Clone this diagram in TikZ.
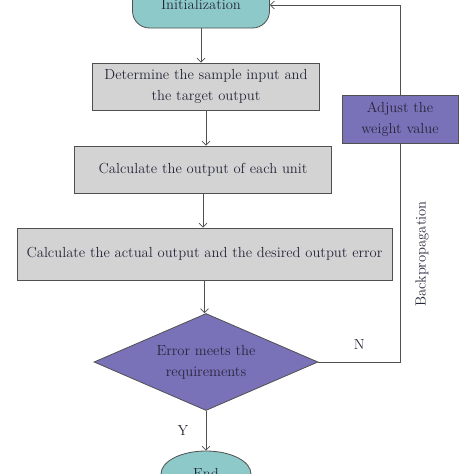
\documentclass[tikz,border=0pt]{standalone}
\usetikzlibrary{arrows.meta, shapes.geometric}
\definecolor{initteal}{RGB}{141,201,201}
\definecolor{boxgray}{RGB}{211,211,211}
\definecolor{decpurple}{RGB}{122,114,185}
\definecolor{linegray}{RGB}{80,80,80}
\definecolor{textdark}{RGB}{38,38,58}

\begin{document}
\begin{tikzpicture}[
    x=1pt, y=-1pt,
    >={Straight Barb[length=4pt, width=8pt]},
    font=\fontsize{14.6}{21}\selectfont,
    terminal/.style={draw=linegray, fill=initteal, line width=0.8pt,
        rounded corners=17pt, text=textdark, inner sep=0pt},
    process/.style={draw=linegray, fill=boxgray, line width=0.8pt,
        text=textdark, align=center, inner sep=0pt},
    decision/.style={diamond, draw=linegray, fill=decpurple, line width=0.8pt,
        text=textdark, align=center, inner sep=0pt, aspect=2.3},
    flow/.style={->, linegray, line width=0.7pt},
    tag/.style={text=textdark},
]

%--- Canvas (reference is square) ---
\useasboundingbox (0,0) rectangle (474,474);

%============================================================
% Main column
%============================================================
\node[terminal, minimum width=137pt, minimum height=46pt] (init) at (201,5)
    {Initialization};
\node[process, minimum width=227pt, minimum height=47pt] (det) at (206,86.5)
    {Determine the sample input and\\the target output};
\node[process, minimum width=257pt, minimum height=47pt] (unit) at (203,169.5)
    {Calculate the output of each unit};
\node[process, minimum width=375pt, minimum height=52pt] (err) at (204.5,254)
    {Calculate the actual output and the desired output error};
\node[decision, minimum width=224pt, minimum height=97pt] (check) at (206,362)
    {Error meets the\\requirements};
\node[ellipse, draw=linegray, fill=initteal, line width=0.8pt, text=textdark,
    inner sep=0pt, minimum width=90pt, minimum height=46pt] (stop) at (206,474)
    {End};

%============================================================
% Feedback branch
%============================================================
\node[process, fill=decpurple, minimum width=116pt, minimum height=48pt] (adjust) at (400,119)
    {Adjust the\\weight value};
\node[tag, rotate=90] (bp) at (422,254) {Backpropagation};

%============================================================
% Connectors
%============================================================
\draw[flow] (init.south) -- (init.south |- det.north);
\draw[flow] (det.south) -- (det.south |- unit.north);
\draw[flow] (unit.south) -- (unit.south |- err.north);
\draw[flow] (err.south) -- (err.south |- check.north);
\draw[flow] (check.south) -- (check.south |- stop.north)
    node[tag, midway, left=14pt] (yes) {Y};

\draw[linegray, line width=0.7pt] (check.east) -- (check.east -| adjust.south)
    node[tag, midway, above=9pt] (no) {N} -- (adjust.south);
\draw[flow] (adjust.north) |- (init.east);

\end{tikzpicture}
\end{document}
